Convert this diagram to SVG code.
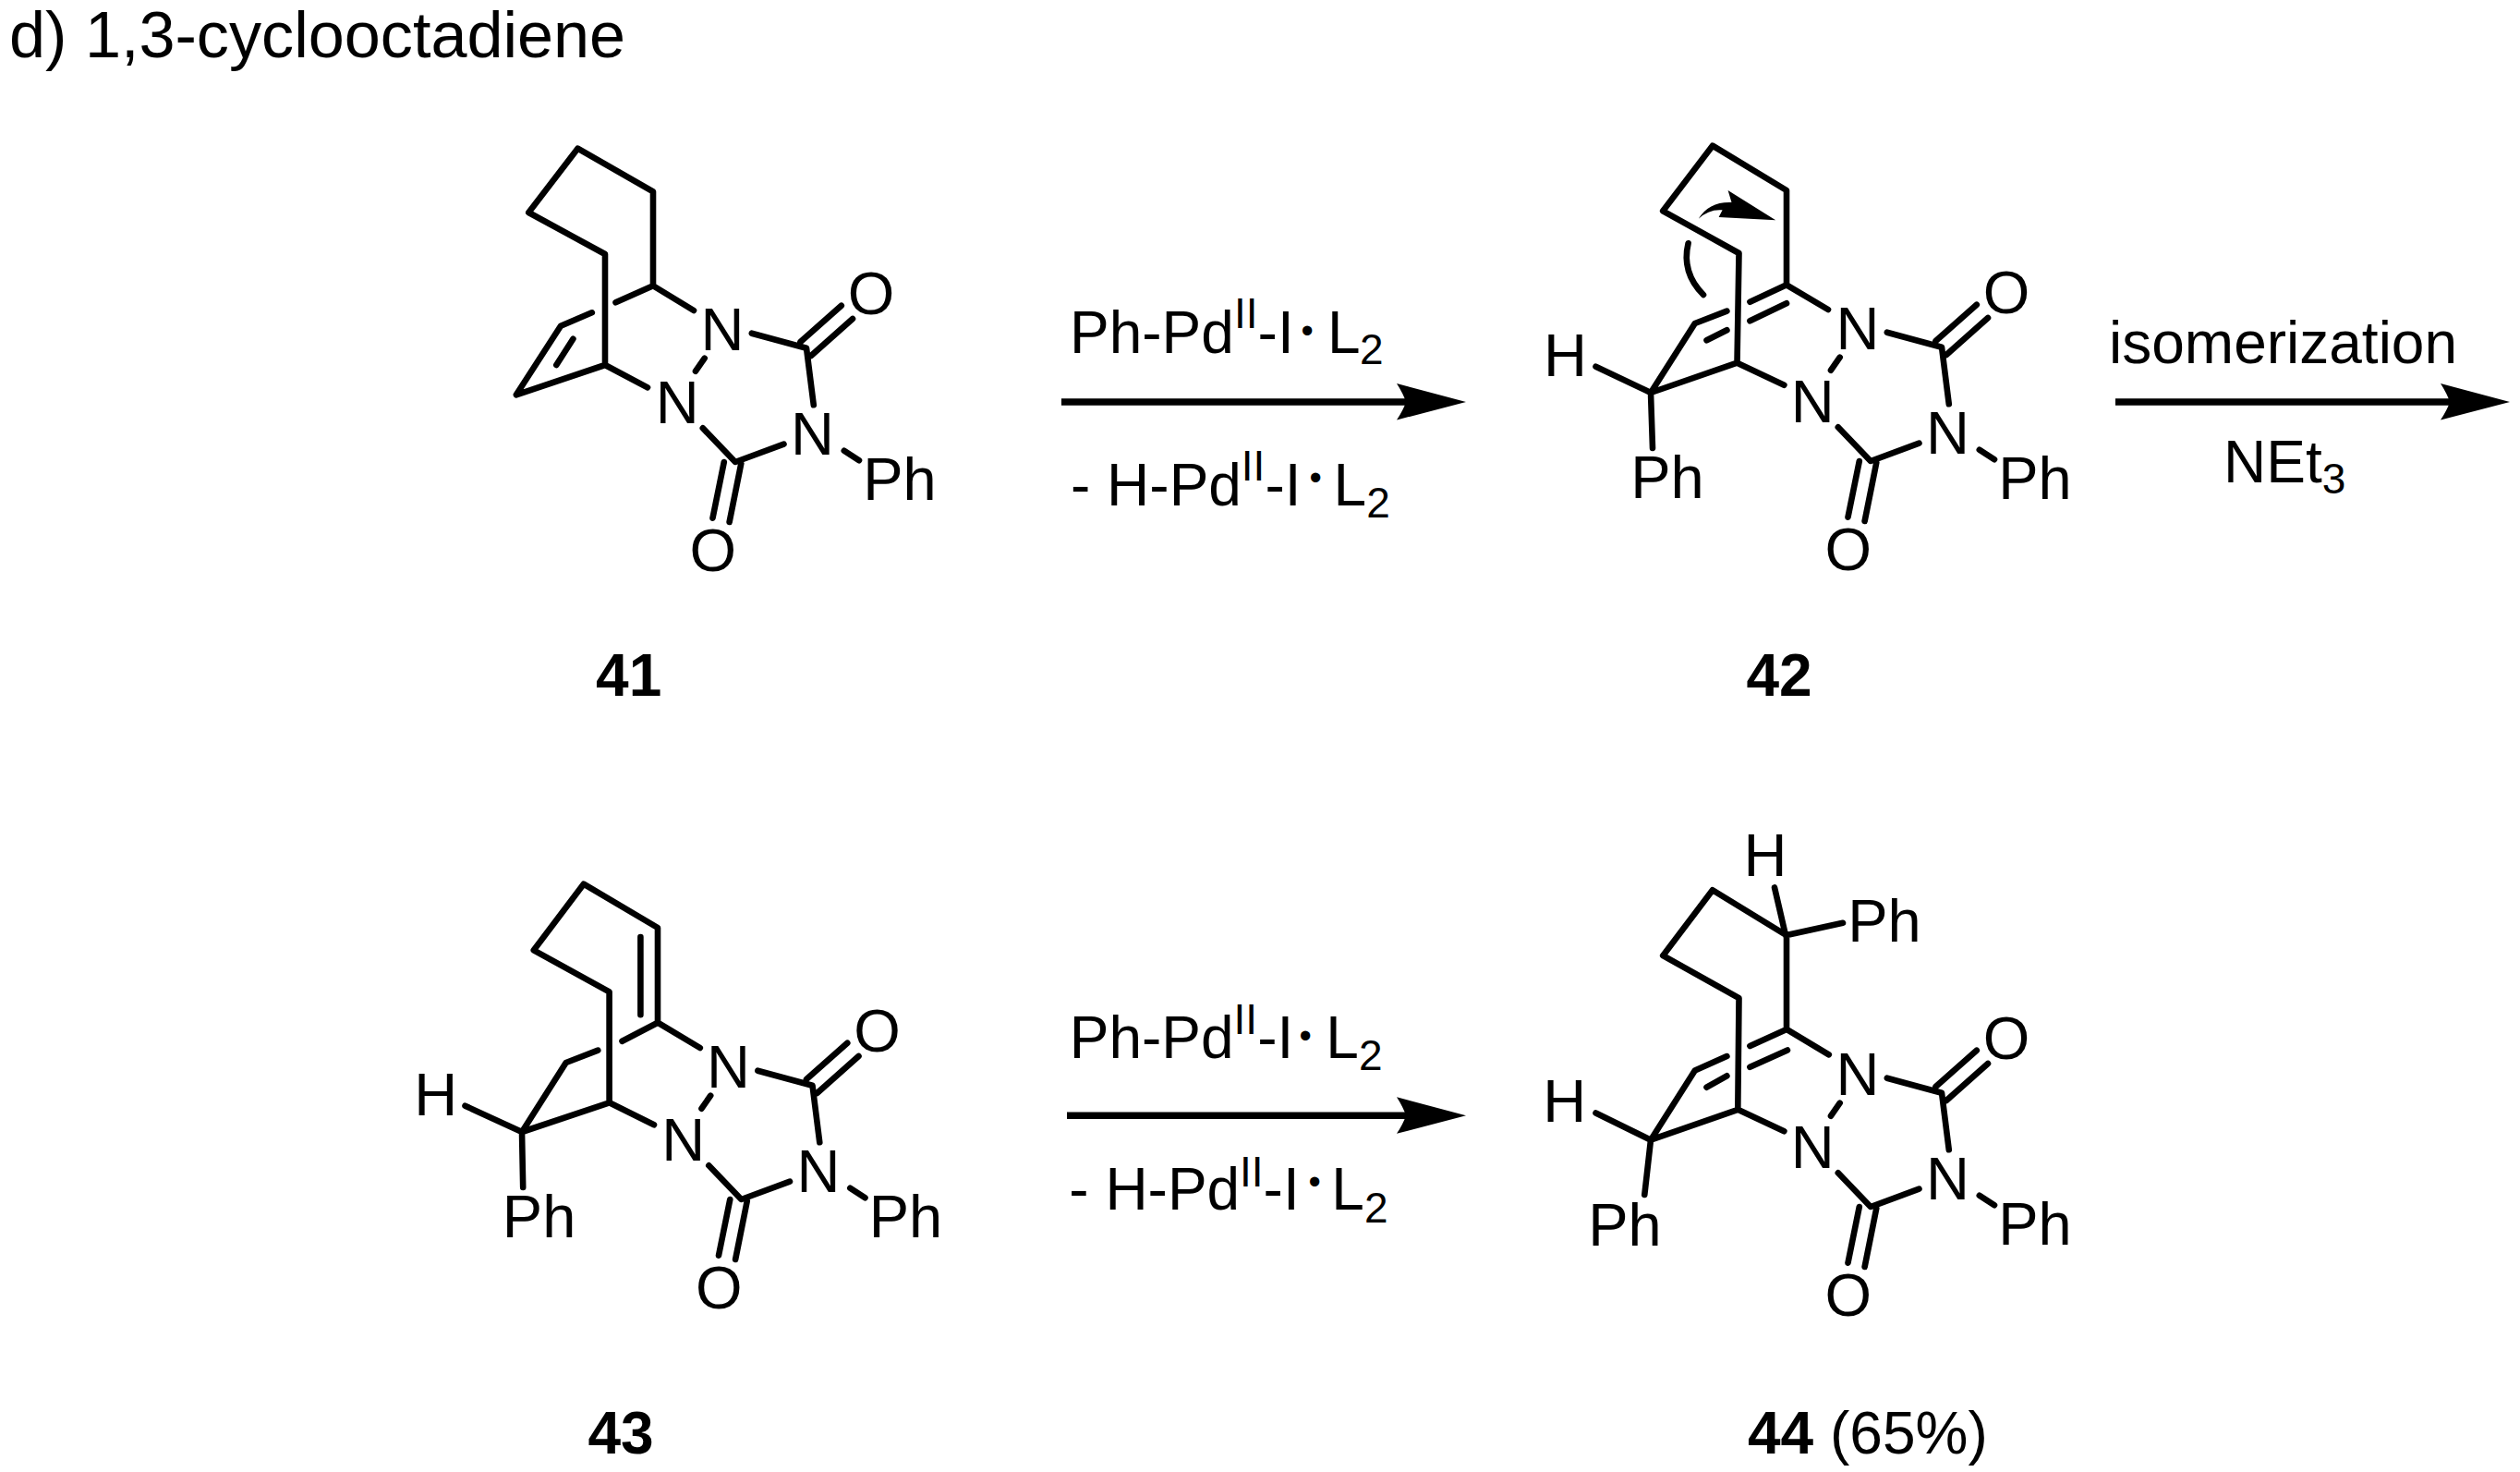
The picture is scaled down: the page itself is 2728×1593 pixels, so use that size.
<svg xmlns="http://www.w3.org/2000/svg" xmlns:xlink="http://www.w3.org/1999/xlink" width="2728" height="1593" viewBox="0 0 2728 1593">
<style>
text{font-family:"Liberation Sans",Arial,sans-serif;font-size:64px;fill:#000}
.a{text-anchor:middle;font-size:65px}
.sm{font-size:46px}
.dot{font-size:38px}
.b{font-weight:bold;font-size:64px}
.t{font-size:70.2px}
.bond{fill:none;stroke:#000;stroke-width:6.6;stroke-linecap:round;stroke-linejoin:round}
.rxn{fill:none;stroke:#000;stroke-width:7.5}
</style>
<defs>
<marker id="head" markerUnits="userSpaceOnUse" viewBox="-10 -20 75 40" refX="0" refY="0" markerWidth="75" markerHeight="40" orient="auto">
<path d="M-10,-20L65,0L-10,19.5Q-3,9 0,0Q-3,-9 -10,-20Z" fill="#000"/>
</marker>
<path id="urazole" class="bond" d="M813.8,360.7L873,376.7L880.8,438.3M866.5,370L910.8,330.7M878,385L923,345M913.8,487.7L930,498.3M848.5,480.7L796,500L760.8,463.3M783.8,500L771.5,560.7M802.3,501.7L789.6,565M762.7,387.7L753,401.7"/>
</defs>
<rect width="2728" height="1593" fill="#fff"/>
<text id="title" class="t" x="10" y="61.7">d) 1,3-cyclooctadiene</text>

<g id="m41">
<use href="#urazole"/>
<path class="bond" d="M666.5,327.3L707,309.3L751,336M707,309.3L707,207.3L625.4,160.7L572.3,230L655,275L655,395L701,419.3M655,395L558.8,427.3L607,352.7L640.8,338.3M620.4,366.7L602.3,395"/>
<text class="a" x="782" y="379">N</text>
<text class="a" x="733.3" y="457.7">N</text>
<text class="a" x="879.5" y="492.4">N</text>
<text class="a" x="943" y="339.5">O</text>
<text class="a" x="771.8" y="618">O</text>
<text class="a" x="974" y="541">Ph</text>
<text class="a b" x="680.7" y="752.7">41</text>
</g>

<g id="m42">
<use href="#urazole" transform="translate(1229,-1)"/>
<path class="bond" d="M1894.4,326.7L1934,308.3L1979,335M1894.4,347.3L1934,328.3M1934,308.3L1934,206L1853.9,157.7L1800.2,228.3L1882.5,274L1880.5,392.7L1931.4,416.7M1880.5,392.7L1787,425L1834.8,350L1869.4,336.7M1869.4,357.3L1847.5,368.3M1727.5,396.7L1787,425L1789,485"/>
<path class="bond" d="M1827.6,263.3Q1820,295 1844,319"/>
<path d="M1870.6,206L1922.2,238.3L1860.6,235L1864.6,227.3Q1850,226 1838.8,236.7Q1850,218 1874.5,219Z" fill="#000"/>
<text class="a" x="2011" y="378">N</text>
<text class="a" x="1962.3" y="456.7">N</text>
<text class="a" x="2108.5" y="491.4">N</text>
<text class="a" x="2172" y="338.5">O</text>
<text class="a" x="2000.8" y="617">O</text>
<text class="a" x="2203" y="540">Ph</text>
<text class="a" x="1694.5" y="407.3">H</text>
<text class="a" x="1805" y="539.3">Ph</text>
<text class="a b" x="1926" y="752.7">42</text>
</g>

<g id="m43">
<use href="#urazole" transform="translate(6.5,798)"/>
<path class="bond" d="M673.5,1126.7L712,1106.7L757.8,1134M712,1106.7L712,1004L631.8,956.7L577.8,1028.3L659.6,1073.3L659.6,1193.3L708,1217.3M693.4,1014L693.4,1098.3M659.6,1193.3L565,1225L612.7,1150L647.3,1136.7M503.5,1196.7L565,1225L566.2,1285"/>
<text class="a" x="788.5" y="1177">N</text>
<text class="a" x="739.8" y="1255.7">N</text>
<text class="a" x="886" y="1290.4">N</text>
<text class="a" x="949.5" y="1137.5">O</text>
<text class="a" x="778.3" y="1416">O</text>
<text class="a" x="980.5" y="1339">Ph</text>
<text class="a" x="471.7" y="1207.3">H</text>
<text class="a" x="583.6" y="1339.3">Ph</text>
<text class="a b" x="672" y="1572.7">43</text>
</g>

<g id="m44">
<use href="#urazole" transform="translate(1229,806)"/>
<path class="bond" d="M1894.4,1132L1934,1113.9L1979.8,1141.3M1894.4,1154.8L1935,1136.5M1934,1113.9L1934,1012.3L1853.9,963.3L1800.2,1034.2L1882.5,1080.2L1881.3,1200.8L1931.4,1224.2M1881.3,1200.8L1787,1233.7L1834.8,1158.4L1869.4,1143.1M1869.4,1164.3L1847.5,1176.7M1727.5,1204.5L1787,1233.7L1780.3,1292.9M1921,960.4L1933,1012.3L1995,998.8"/>
<text class="a" x="2011" y="1185">N</text>
<text class="a" x="1962.3" y="1263.7">N</text>
<text class="a" x="2108.5" y="1298.4">N</text>
<text class="a" x="2172" y="1145.5">O</text>
<text class="a" x="2000.8" y="1424">O</text>
<text class="a" x="2203" y="1347">Ph</text>
<text class="a" x="1911" y="947.6">H</text>
<text class="a" x="2040" y="1018.9">Ph</text>
<text class="a" x="1693.7" y="1214.3">H</text>
<text class="a" x="1759" y="1347.7">Ph</text>
<text x="1892" y="1572.7"><tspan class="b">44</tspan><tspan font-size="64"> (65%)</tspan></text>
</g>

<g id="connectors">
<line class="rxn" x1="1149" y1="435" x2="1522" y2="435" marker-end="url(#head)"/>
<line class="rxn" x1="2290" y1="435" x2="2652" y2="435" marker-end="url(#head)"/>
<line class="rxn" x1="1155" y1="1207.3" x2="1522" y2="1207.3" marker-end="url(#head)"/>
</g>

<g id="labels">
<text x="1158" y="381.7">Ph-Pd<tspan class="sm" x="1336" y="355">II</tspan><tspan x="1361.6" y="381.7">-I</tspan><tspan class="dot" x="1408.4" y="370.7">•</tspan><tspan x="1437" y="381.7">L</tspan><tspan class="sm" x="1472" y="394.3">2</tspan></text>
<text x="1159" y="546.7">- H-Pd<tspan class="sm" x="1343.8" y="520">II</tspan><tspan x="1369.4" y="546.7">-I</tspan><tspan class="dot" x="1417.6" y="530">•</tspan><tspan x="1443.6" y="546.7">L</tspan><tspan class="sm" x="1479.2" y="560">2</tspan></text>
<text x="2283" y="392.7">isomerization</text>
<text x="2407" y="521.7">NEt<tspan class="sm" y="534">3</tspan></text>
<text x="1157.7" y="1145">Ph-Pd<tspan class="sm" x="1335.6" y="1119">II</tspan><tspan x="1361.2" y="1145">-I</tspan><tspan class="dot" x="1406.6" y="1134">•</tspan><tspan x="1435.3" y="1145">L</tspan><tspan class="sm" x="1471" y="1158.3">2</tspan></text>
<text x="1157.3" y="1309.3">- H-Pd<tspan class="sm" x="1342" y="1284">II</tspan><tspan x="1367.6" y="1309.3">-I</tspan><tspan class="dot" x="1416.6" y="1292.3">•</tspan><tspan x="1441.3" y="1309.3">L</tspan><tspan class="sm" x="1477" y="1323.3">2</tspan></text>
</g>
</svg>
